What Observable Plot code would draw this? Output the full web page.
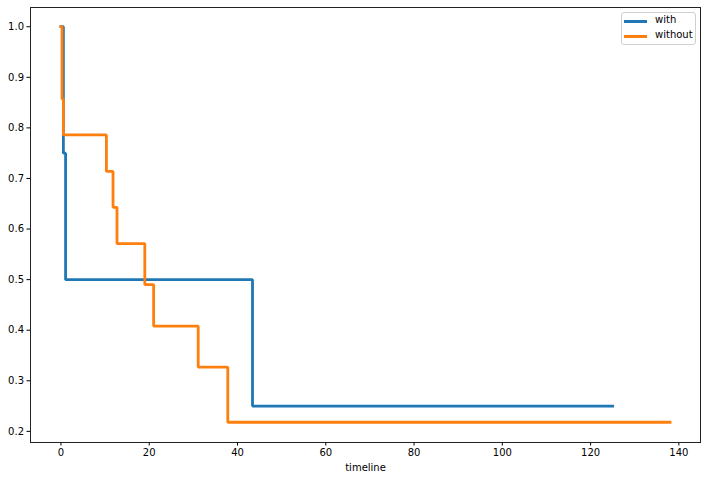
<!DOCTYPE html>
<html>
<head>
<meta charset="utf-8">
<script src="https://cdn.jsdelivr.net/npm/d3@7"></script>
<script src="https://cdn.jsdelivr.net/npm/@observablehq/plot@0.6"></script>
<style>
  html, body { margin: 0; padding: 0; background: #fff; }
  #wrap { position: relative; width: 706px; height: 480px; font-family: "DejaVu Sans", sans-serif; }
  #legend { position: absolute; left: 621px; top: 12px; width: 73px; height: 31px;
    border: 1px solid #d0d0d0; border-radius: 3px; background: #fff; font-size: 10px; color: #000; }
  .row { position: absolute; left: 2px; height: 12px; }
  .sw { position: absolute; left: 0; width: 23px; height: 3px; }
  .lb { position: absolute; left: 31px; top: -6px; white-space: nowrap; }
</style>
</head>
<body>
<div id="wrap"></div>
<script>
const seriesNames = ["with", "without"];
const colors = ["#1f77b4", "#ff7f0e"];
const withTimes = [0, 0.55, 1.05, 43.4, 125.0];
const withSurv = [1.0, 0.75, 0.5, 0.25, 0.25];
const withoutTimes = [0, 0.25, 0.55, 10.3, 11.8, 12.7, 19.0, 21.0, 31.1, 37.8, 138.0];
const withoutSurv = [1.0, 0.857, 0.786, 0.714, 0.643, 0.571, 0.490, 0.408, 0.327, 0.218, 0.218];
const xTicks = [0, 20, 40, 60, 80, 100, 120, 140];
const yTicks = [0.2, 0.3, 0.4, 0.5, 0.6, 0.7, 0.8, 0.9, 1.0];

const rows = [
  ...withTimes.map((t, i) => ({series: "with", t, s: withSurv[i]})),
  ...withoutTimes.map((t, i) => ({series: "without", t, s: withoutSurv[i]}))
];

const chart = Plot.plot({
  width: 706,
  height: 480,
  marginLeft: 30,
  marginRight: 6,
  marginTop: 7,
  marginBottom: 38,
  style: {fontFamily: "DejaVu Sans, sans-serif", fontSize: "10px", color: "#000", background: "#fff"},
  x: {domain: [-6.9, 144.9]},
  y: {domain: [0.178, 1.038]},
  color: {domain: seriesNames, range: colors},
  marks: [
    Plot.axisX({ticks: xTicks, tickSize: 3.5, tickPadding: 3, tickFormat: d3.format("d"),
      label: "timeline", labelAnchor: "center", labelOffset: 28, labelArrow: "none"}),
    Plot.axisY({ticks: yTicks, tickSize: 3.5, tickPadding: 3, tickFormat: d3.format(".1f"), label: null}),
    Plot.line(rows, {x: "t", y: "s", z: "series", stroke: "series", curve: "step-after",
      strokeWidth: 2.8, strokeLinejoin: "miter", strokeLinecap: "square"}),
    Plot.frame({stroke: "#222", strokeWidth: 1})
  ]
});
const wrap = document.getElementById("wrap");
wrap.appendChild(chart);

const legend = document.createElement("div");
legend.id = "legend";
seriesNames.forEach((name, i) => {
  const row = document.createElement("div");
  row.className = "row";
  row.style.top = (7 + i * 14.5) + "px";
  const sw = document.createElement("div");
  sw.className = "sw";
  sw.style.background = colors[i];
  const lb = document.createElement("div");
  lb.className = "lb";
  lb.textContent = name;
  row.appendChild(sw);
  row.appendChild(lb);
  legend.appendChild(row);
});
wrap.appendChild(legend);
</script>
</body>
</html>
